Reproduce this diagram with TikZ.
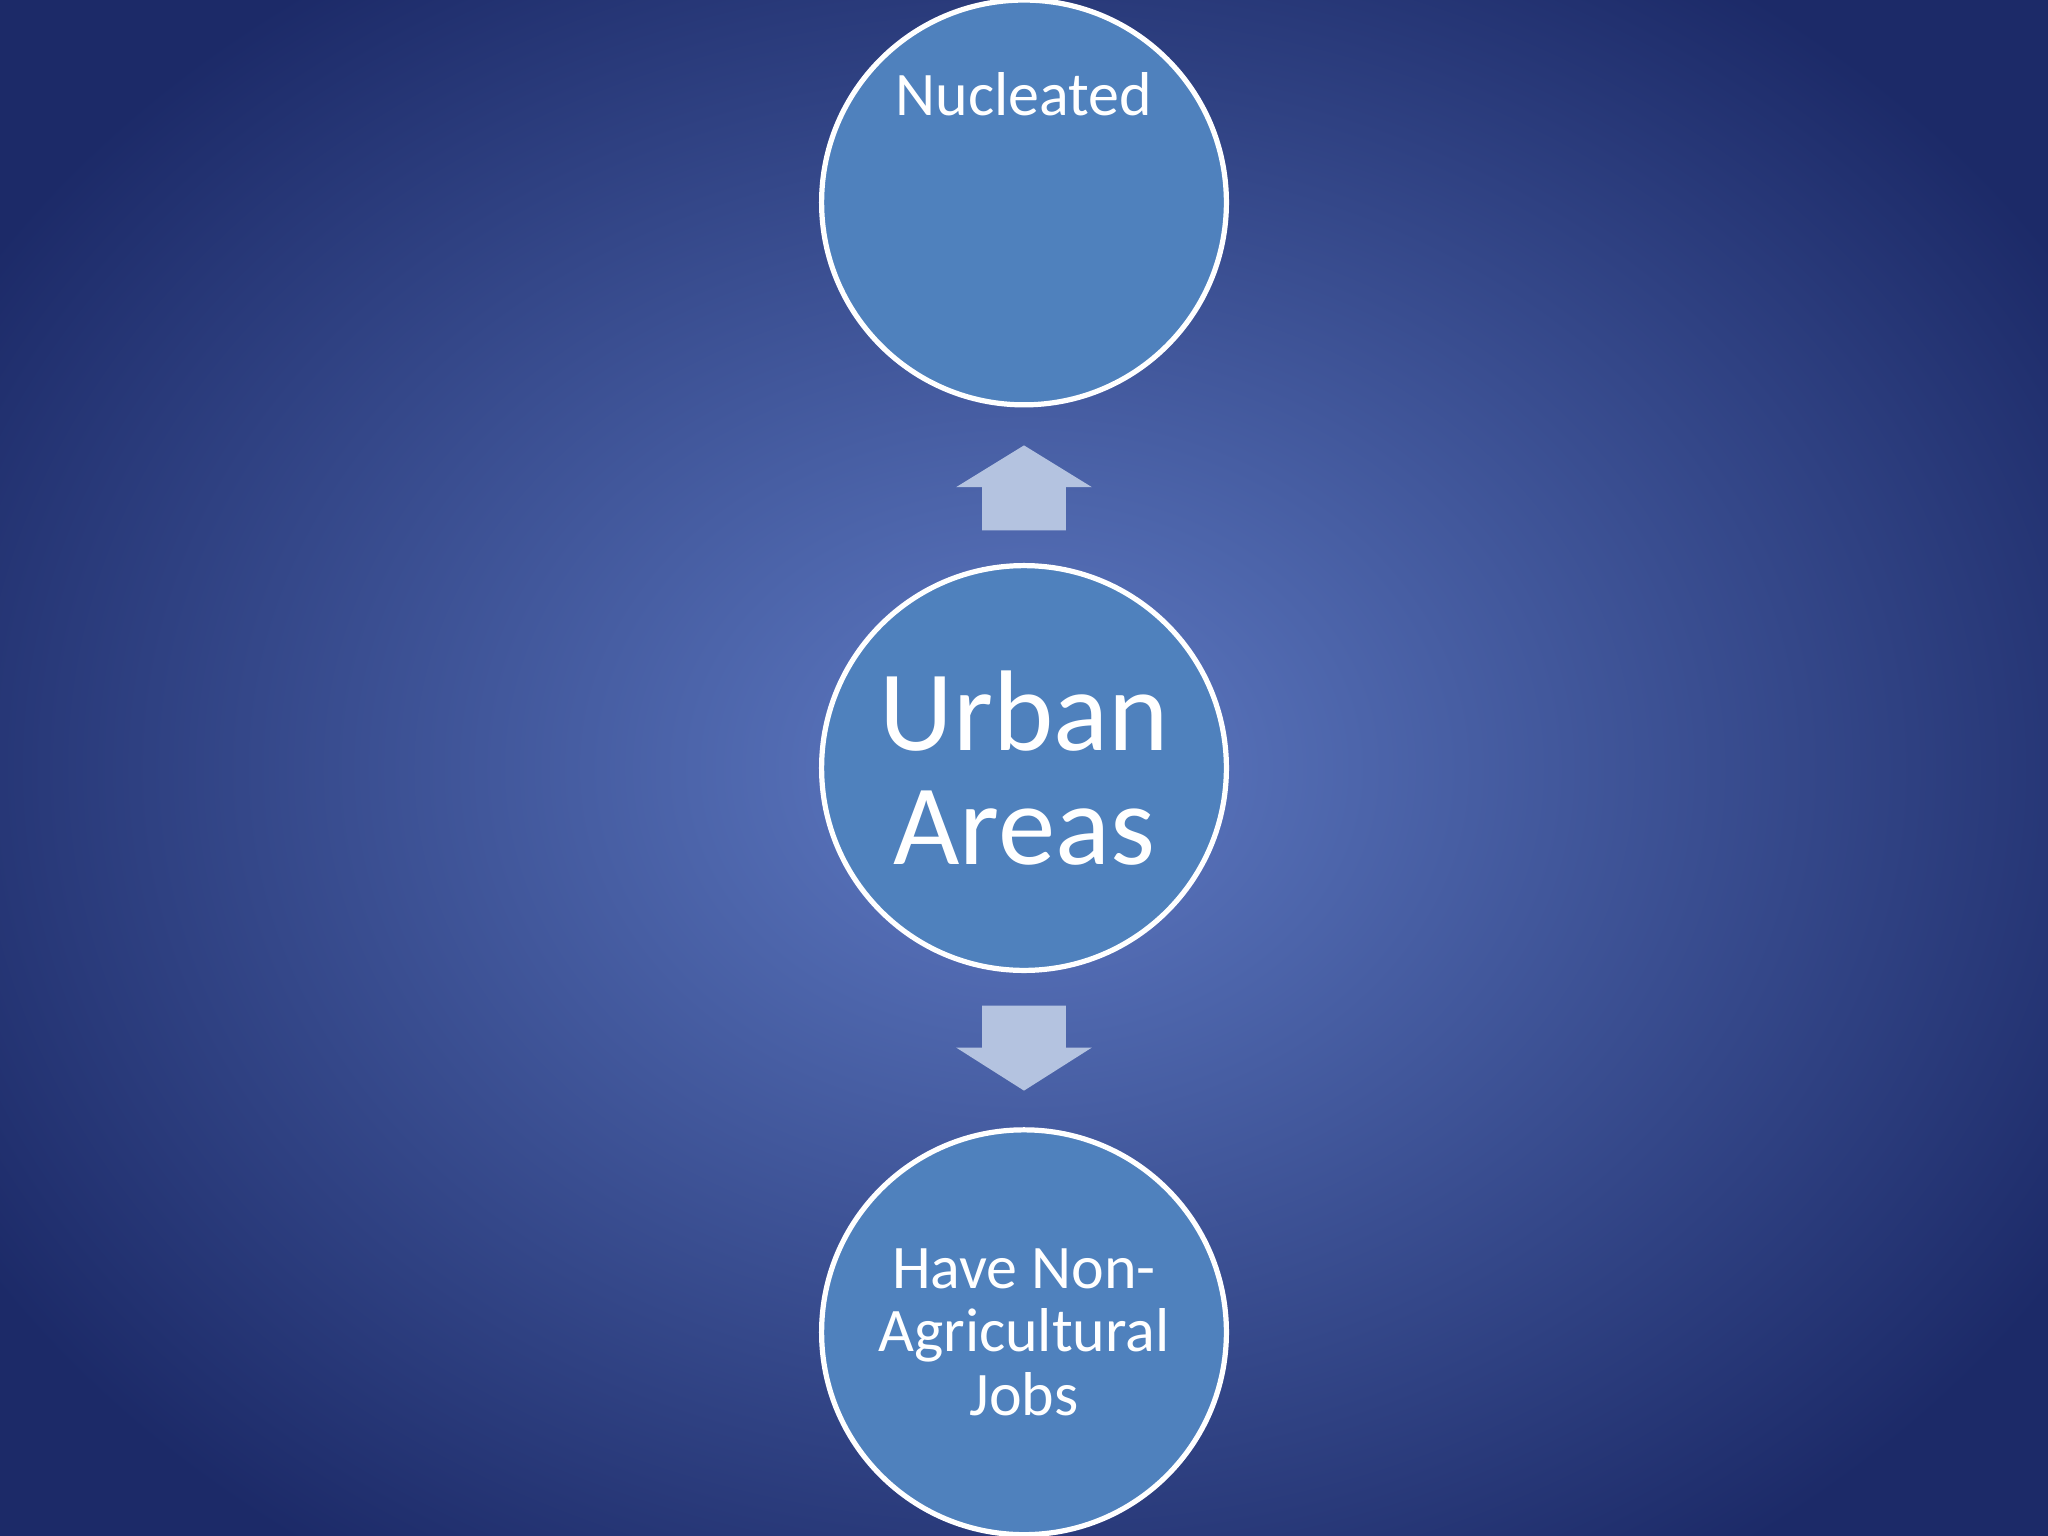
\documentclass[tikz,border=0pt]{standalone}
\usepackage{fontspec}
\setmainfont{Carlito}
\definecolor{bgin}{HTML}{5F7BC4}
\definecolor{bgout}{HTML}{1C2A68}
\definecolor{circfill}{HTML}{4F81BD}
\definecolor{arrowfill}{HTML}{B4C3E0}
\tikzset{
  bubble/.style={circle,draw=white,line width=0.08cm,fill=circfill,minimum size=6.2cm,inner sep=0pt,text=white,align=center},
  blockarrow/.style={fill=arrowfill,draw=none}
}
\begin{document}
\begin{tikzpicture}[x=0.02cm,y=-0.02cm]
\useasboundingbox (0,0) rectangle (1568,1176);
\shade[inner color=bgin,outer color=bgout] (-150,-150) rectangle (1718,1326);
\node[bubble,font=\fontsize{27}{32}\selectfont] (top) at (784,155) {Nucleated\\[2.2cm]};
\node[bubble,font=\fontsize{50}{50}\selectfont] (mid) at (784,588) {Urban\\Areas};
\node[bubble,font=\fontsize{27}{27.5}\selectfont] (bot) at (784,1020) {Have Non-\\Agricultural\\Jobs};
\coordinate (ua) at (784,341);
\coordinate (da) at (784,835);
\fill[blockarrow] (ua) -- (836,373) -- (816,373) -- (816,406) -- (752,406) -- (752,373) -- (732,373) -- cycle;
\fill[blockarrow] (da) -- (836,802) -- (816,802) -- (816,770) -- (752,770) -- (752,802) -- (732,802) -- cycle;
\end{tikzpicture}
\end{document}
